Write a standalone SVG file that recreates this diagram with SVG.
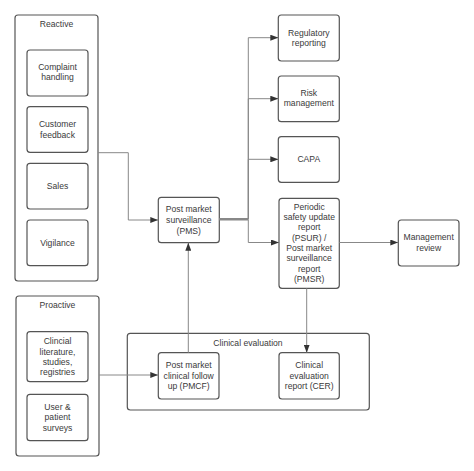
<svg xmlns="http://www.w3.org/2000/svg" width="474" height="471" viewBox="0 0 474 471">
<defs>
<marker id="arr" viewBox="0 0 8 6" refX="8" refY="3" markerWidth="8" markerHeight="6" markerUnits="userSpaceOnUse" orient="auto">
<path d="M0,0 L8,3 L0,6 Z" fill="#333"/>
</marker>
<style>
rect{fill:#fff;stroke:#555;stroke-width:1.2}
text{font-family:"Liberation Sans",Arial,sans-serif;font-size:8.6px;fill:#3a3a3a;text-anchor:middle;dominant-baseline:central}
.c path{fill:none;stroke:#888;stroke-width:1}
.c path.a{marker-end:url(#arr)}
</style>
</defs>
<rect width="474" height="471" style="fill:#fff;stroke:none"/>
<g id="reactive"><rect x="15" y="15" width="83" height="266" rx="3"/><text x="56.5" y="24">Reactive</text></g>
<g id="complaint"><rect x="27" y="50" width="61" height="46" rx="3"/><text x="57.5" y="66.7">Complaint</text><text x="57.5" y="77.3">handling</text></g>
<g id="customer"><rect x="27" y="106.7" width="61" height="45.6" rx="3"/><text x="57.5" y="124.2">Customer</text><text x="57.5" y="134.8">feedback</text></g>
<g id="sales"><rect x="27" y="163.3" width="61" height="45.7" rx="3"/><text x="57.5" y="186">Sales</text></g>
<g id="vigilance"><rect x="27" y="220" width="61" height="45.7" rx="3"/><text x="57.5" y="243">Vigilance</text></g>
<g id="proactive"><rect x="16" y="296" width="83" height="160" rx="3"/><text x="57.5" y="305">Proactive</text></g>
<g id="literature"><rect x="27" y="331.7" width="61" height="50" rx="3"/><text x="57.5" y="341.3">Clincial</text><text x="57.5" y="351.7">literature,</text><text x="57.5" y="362">studies,</text><text x="57.5" y="372.4">registries</text></g>
<g id="surveys"><rect x="27" y="394.3" width="61" height="46.4" rx="3"/><text x="57.5" y="406.8">User &amp;</text><text x="57.5" y="417.4">patient</text><text x="57.5" y="427.8">surveys</text></g>
<g id="clinical-evaluation"><rect x="127.3" y="333.3" width="242" height="76.7" rx="3"/><text x="248" y="342.7">Clinical evaluation</text></g>
<g id="pmcf"><rect x="158.3" y="352.7" width="60.7" height="46.3" rx="3"/><text x="188.7" y="365.3">Post market</text><text x="188.7" y="375.8">clinical follow</text><text x="188.7" y="386.3">up (PMCF)</text></g>
<g id="cer"><rect x="279" y="352.7" width="60.3" height="46.3" rx="3"/><text x="309.2" y="365.3">Clinical</text><text x="309.2" y="375.8">evaluation</text><text x="309.2" y="386.3">report (CER)</text></g>
<g id="pms"><rect x="158.3" y="197.3" width="61" height="45.4" rx="3"/><text x="188.8" y="209.3">Post market</text><text x="188.8" y="220">surveillance</text><text x="188.8" y="230.7">(PMS)</text></g>
<g id="regulatory"><rect x="278.3" y="15" width="61" height="46" rx="3"/><text x="308.8" y="32.6">Regulatory</text><text x="308.8" y="43">reporting</text></g>
<g id="risk"><rect x="278.3" y="76" width="61" height="45.7" rx="3"/><text x="308.8" y="92.8">Risk</text><text x="308.8" y="103.3">management</text></g>
<g id="capa"><rect x="278.3" y="136.7" width="61" height="45.6" rx="3"/><text x="308.8" y="159.3">CAPA</text></g>
<g id="psur"><rect x="279" y="198.3" width="60.3" height="90" rx="3"/><text x="309.2" y="206.7">Periodic</text><text x="309.2" y="217">safety update</text><text x="309.2" y="227.3">report</text><text x="309.2" y="237.6">(PSUR) /</text><text x="309.2" y="247.9">Post market</text><text x="309.2" y="258.2">surveillance</text><text x="309.2" y="268.5">report</text><text x="309.2" y="278.8">(PMSR)</text></g>
<g id="management"><rect x="398.3" y="220" width="60.7" height="46" rx="3"/><text x="428.7" y="237.3">Management</text><text x="428.7" y="247.5">review</text></g>
<g class="c" id="connectors">
<path class="a" d="M98,152.7 H128.3 V220 H158.3"/>
<path class="a" d="M99,375 H158.3"/>
<path class="a" d="M188.3,352.7 V242.7"/>
<path class="a" d="M219.3,218.5 H248.3 V37.7 H278.3"/>
<path class="a" d="M219.3,219 H248.3 V98.7 H278.3"/>
<path class="a" d="M219.3,219.5 H248.3 V159.3 H278.3"/>
<path class="a" d="M219.3,220 H248.3 V242.5 H279"/>
<path class="a" d="M339.3,242.5 H398.3"/>
<path class="a" d="M306.7,288.3 V352.7"/>
</g>
</svg>
